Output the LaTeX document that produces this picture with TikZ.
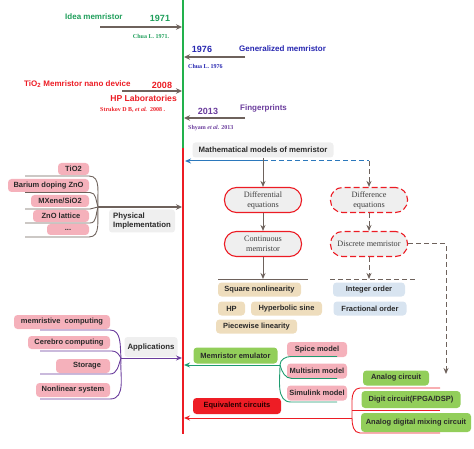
\documentclass[tikz,border=0pt]{standalone}
\usepackage{fontspec}
\setmainfont{Liberation Serif}
\setsansfont{Liberation Sans}
\usetikzlibrary{arrows.meta}
\definecolor{mgreen}{HTML}{22B14C}
\definecolor{tgreen}{HTML}{1E9E5A}
\definecolor{tblue}{HTML}{2626B0}
\definecolor{tred}{HTML}{EC1C24}
\definecolor{tpurple}{HTML}{6A3C9C}
\definecolor{agray}{HTML}{6E625C}
\definecolor{bgray}{HTML}{EFEFEF}
\definecolor{cpink}{HTML}{F5B1BB}
\definecolor{ctan}{HTML}{EEDDBD}
\definecolor{lblue}{HTML}{D8E4F0}
\definecolor{lgreen}{HTML}{92CE5A}
\definecolor{rbox}{HTML}{EE1D25}
\definecolor{cteal}{HTML}{1E9C70}
\definecolor{mblue}{HTML}{2B78BC}
\definecolor{ptxt}{HTML}{2A2A2A}
\begin{document}
\begin{tikzpicture}[x=1pt,y=-1pt,
  tl/.style={inner sep=0pt,font=\sffamily\bfseries\fontsize{8}{9}\selectfont},
  yr/.style={inner sep=0pt,font=\sffamily\bfseries\fontsize{9}{10}\selectfont},
  hpl/.style={inner sep=0pt,font=\sffamily\bfseries\fontsize{8.6}{10}\selectfont},
  cit/.style={inner sep=0pt,font=\rmfamily\bfseries\fontsize{6}{7}\selectfont},
  tarr/.style={agray,line width=1.3pt,-{Stealth[length=6pt,width=5.5pt]}},
  arr/.style={agray,line width=1pt,-{Stealth[length=6pt,width=5pt]}},
  darr/.style={agray,line width=1pt,dash pattern=on 5pt off 3pt,-{Stealth[length=6pt,width=5pt]}},
  dl/.style={agray,line width=1pt,dash pattern=on 5pt off 3pt},
  sl/.style={agray,line width=1pt},
  gbox/.style={fill=bgray,rounded corners=3pt,inner sep=1pt,text=ptxt,font=\sffamily\bfseries\fontsize{7.8}{9.5}\selectfont},
  mbox/.style={draw=tred,line width=1.1pt,fill=bgray,rounded corners=12pt,minimum width=77pt,minimum height=25pt,inner sep=1pt,align=center,text=black!75,font=\rmfamily\fontsize{8.2}{10}\selectfont},
  dbox/.style={mbox,dash pattern=on 6pt off 3pt},
  tag/.style={rounded corners=3.5pt,inner sep=0pt,minimum height=14pt,text=ptxt,font=\sffamily\bfseries\fontsize{7.5}{9}\selectfont},
  brk/.style={agray,line width=0.9pt},
  pbrk/.style={tpurple,line width=0.9pt},
  tbrk/.style={cteal,line width=0.9pt},
  rbrk/.style={tred,line width=0.9pt}
]
\useasboundingbox (0,0) rectangle (474,449);

% main timeline
\coordinate (top) at (183,0);
\coordinate (mid) at (183,148);
\coordinate (bot) at (183,434);
\draw[mgreen,line width=1.8pt] (top) -- (mid);
\draw[tred,line width=1.8pt] (mid) -- (bot);

% 1971
\node[tl,text=tgreen,anchor=west] (idea) at (65,17) {Idea memristor};
\node[yr,text=tgreen] (y71) at (160,18) {1971};
\node[cit,text=tgreen] (c71) at (151,36) {Chua L. 1971.};
\coordinate (s71) at (100,27); \coordinate (e71) at (182,27);
\draw[tarr] (s71) -- (e71);

% 1976
\node[yr,text=tblue] (y76) at (202,49) {1976};
\node[tl,text=tblue,anchor=west] (gen) at (239,49) {Generalized memristor};
\node[cit,text=tblue,anchor=west] (c76) at (188,66) {Chua L. 1976};
\coordinate (s76) at (245,57); \coordinate (e76) at (184,57);
\draw[tarr] (s76) -- (e76);

% 2008
\node[tl,text=tred,anchor=west] (tio) at (24,84) {TiO\textsubscript{2} Memristor nano device};
\node[yr,text=tred] (y08) at (162,85) {2008};
\coordinate (s08) at (122,91); \coordinate (e08) at (182,91);
\draw[tarr] (s08) -- (e08);
\node[hpl,text=tred,anchor=east] (hp) at (177,98) {HP Laboratories};
\node[cit,text=tred,anchor=west] (c08) at (100,110) {Strukov D B, \textit{et al.}\ \ 2008 .};

% 2013
\node[yr,text=tpurple] (y13) at (208,111) {2013};
\node[tl,text=tpurple,anchor=west] (fp) at (240,108) {Fingerprints};
\coordinate (s13) at (245,118); \coordinate (e13) at (184,118);
\draw[tarr] (s13) -- (e13);
\node[cit,text=tpurple,anchor=west] (c13) at (188,128) {Shyam \textit{et al.} 2013};

% mathematical models
\node[gbox,minimum width=141pt,minimum height=15pt] (math) at (263,150) {Mathematical models of memristor};
\node[mbox] (diff) at (263,200) {Differential\\equations};
\node[dbox] (dif) at (369,200) {Difference\\equations};
\node[mbox] (cont) at (263,244) {Continuous\\memristor};
\node[dbox] (disc) at (369,244) {Discrete memristor};
\coordinate (bj) at (263,161);
\coordinate (bl) at (185,161);
\coordinate (dj) at (369,161);
\draw[mblue,line width=1pt,-{Stealth[length=6pt,width=5pt]}] (bj) -- (bl);
\draw[mblue,line width=1pt,dash pattern=on 5pt off 3pt] (bj) -- (dj);
\draw[darr] (dj) -- (dif.north);
\draw[arr] (math.south) -- (diff.north);
\draw[arr] (diff) -- (cont);
\draw[darr] (dif) -- (disc);
\coordinate (cb) at (263,279);
\coordinate (cbl) at (218,279); \coordinate (cbr) at (308,279);
\draw[arr] (cont) -- (cb);
\draw[sl] (cbl) -- (cbr);
\coordinate (db) at (369,279);
\coordinate (dbl) at (330,279); \coordinate (dbr) at (417,279);
\draw[darr] (disc) -- (db);
\draw[dl] (dbl) -- (dbr);
\coordinate (dr) at (446,244); \coordinate (dd) at (446,374);
\draw[darr] (disc.east) -- (dr) -- (dd);

\node[tag,fill=ctan,minimum width=83pt] (sq) at (259.5,289.5) {Square nonlinearity};
\node[tag,fill=ctan,minimum width=27pt] (hpm) at (231.5,308.5) {HP};
\node[tag,fill=ctan,minimum width=71pt] (hyp) at (286.5,308.5) {Hyperbolic sine};
\node[tag,fill=ctan,minimum width=81pt] (pw) at (256.5,326.5) {Piecewise linearity};
\node[tag,fill=lblue,minimum width=72pt] (io) at (369,289.5) {Integer order};
\node[tag,fill=lblue,minimum width=73pt] (fo) at (370,308.5) {Fractional order};

% physical implementation
\node[gbox,minimum width=66pt,minimum height=23pt,align=left] (phys) at (142,221) {Physical\\Implementation};
\node[tag,fill=cpink,minimum width=31pt,minimum height=12pt] (tio2) at (73.5,169) {TiO2};
\node[tag,fill=cpink,minimum width=81pt,minimum height=13pt] (bar) at (48.5,185.5) {Barium doping ZnO};
\node[tag,fill=cpink,minimum width=58pt,minimum height=12pt] (mx) at (60,201) {MXene/SiO2};
\node[tag,fill=cpink,minimum width=56pt,minimum height=12pt] (zno) at (61,216) {ZnO lattice};
\node[tag,fill=cpink,minimum width=42pt,minimum height=11pt] (dots) at (68,229.5) {...};
\coordinate (pj) at (98,207); \coordinate (pe) at (182,207);
\draw[brk] (25,176) -- (89,176) to[out=0,in=95] (pj);
\draw[brk] (25,192.5) -- (90,192.5) to[out=0,in=110] (pj);
\draw[brk] (25,209) -- (90,209) to[out=0,in=180] (pj);
\draw[brk] (25,223) -- (90,223) to[out=0,in=-110] (pj);
\draw[brk] (25,237) -- (89,237) to[out=0,in=-95] (pj);
\draw[tarr] (pj) -- (pe);

% applications
\node[gbox,minimum width=53pt,minimum height=20pt] (apps) at (151,347) {Applications};
\node[tag,fill=cpink,minimum width=96pt] (mc) at (62,322) {memristive\ \ computing};
\node[tag,fill=cpink,minimum width=82pt,minimum height=13pt] (cc) at (69,342.5) {Cerebro computing};
\node[tag,fill=cpink,minimum width=54pt] (st) at (83,366) {\hspace*{8pt}Storage};
\node[tag,fill=cpink,minimum width=74pt] (ns) at (73,390) {Nonlinear system};
\coordinate (aj) at (121,358); \coordinate (ae) at (182,358);
\draw[pbrk] (40,330) -- (110,330) to[out=0,in=95] (aj);
\draw[pbrk] (40,351) -- (112,351) to[out=0,in=120] (aj);
\draw[pbrk] (40,374) -- (110,374) to[out=0,in=-110] (aj);
\draw[pbrk] (40,399) -- (110,399) to[out=0,in=-95] (aj);
\draw[tpurple,line width=1pt,-{Stealth[length=6pt,width=5pt]}] (aj) -- (ae);

% memristor emulator
\node[tag,fill=lgreen,minimum width=84pt,minimum height=16pt] (emu) at (235.5,355.5) {Memristor emulator};
\node[tag,fill=cpink,minimum width=60pt,minimum height=15pt] (spice) at (317,349.5) {Spice model};
\node[tag,fill=cpink,minimum width=60pt,minimum height=15pt] (multi) at (317,371) {Multisim model};
\node[tag,fill=cpink,minimum width=60pt,minimum height=15pt] (simu) at (317,393) {Simulink model};
\coordinate (ej) at (280,365); \coordinate (ee) at (184,365);
\draw[tbrk] (337,356.5) -- (291,356.5) to[out=180,in=90] (ej);
\draw[tbrk] (ej) to[out=-90,in=180] (291,402) -- (337,402);
\draw[tbrk] (ej) to[out=-75,in=180] (292,378.5) -- (337,378.5);
\draw[cteal,line width=1pt,-{Stealth[length=6pt,width=5pt]}] (ej) -- (ee);

% equivalent circuits
\node[tag,fill=rbox,minimum width=88pt,minimum height=16pt,text=black!85!red] (eq) at (237,406) {Equivalent circuits};
\node[tag,fill=lgreen,minimum width=66pt,minimum height=15pt] (ac) at (396,378) {Analog circuit};
\node[tag,fill=lgreen,minimum width=99pt,minimum height=17pt] (dc) at (411,399.5) {Digit circuit(FPGA/DSP)};
\node[tag,fill=lgreen,minimum width=110pt,minimum height=19pt] (adm) at (416,422.5) {Analog digital mixing circuit};
\coordinate (qj) at (352,418); \coordinate (qe) at (184,418);
\draw[rbrk] (440,388) -- (360,388) to[out=180,in=90] (352,400) -- (qj);
\draw[rbrk] (qj) to[out=-90,in=180] (360,433) -- (440,433);
\draw[rbrk] (352,410) -- (440,410);
\draw[tred,line width=1pt,-{Stealth[length=6pt,width=5pt]}] (qj) -- (qe);
\end{tikzpicture}
\end{document}
